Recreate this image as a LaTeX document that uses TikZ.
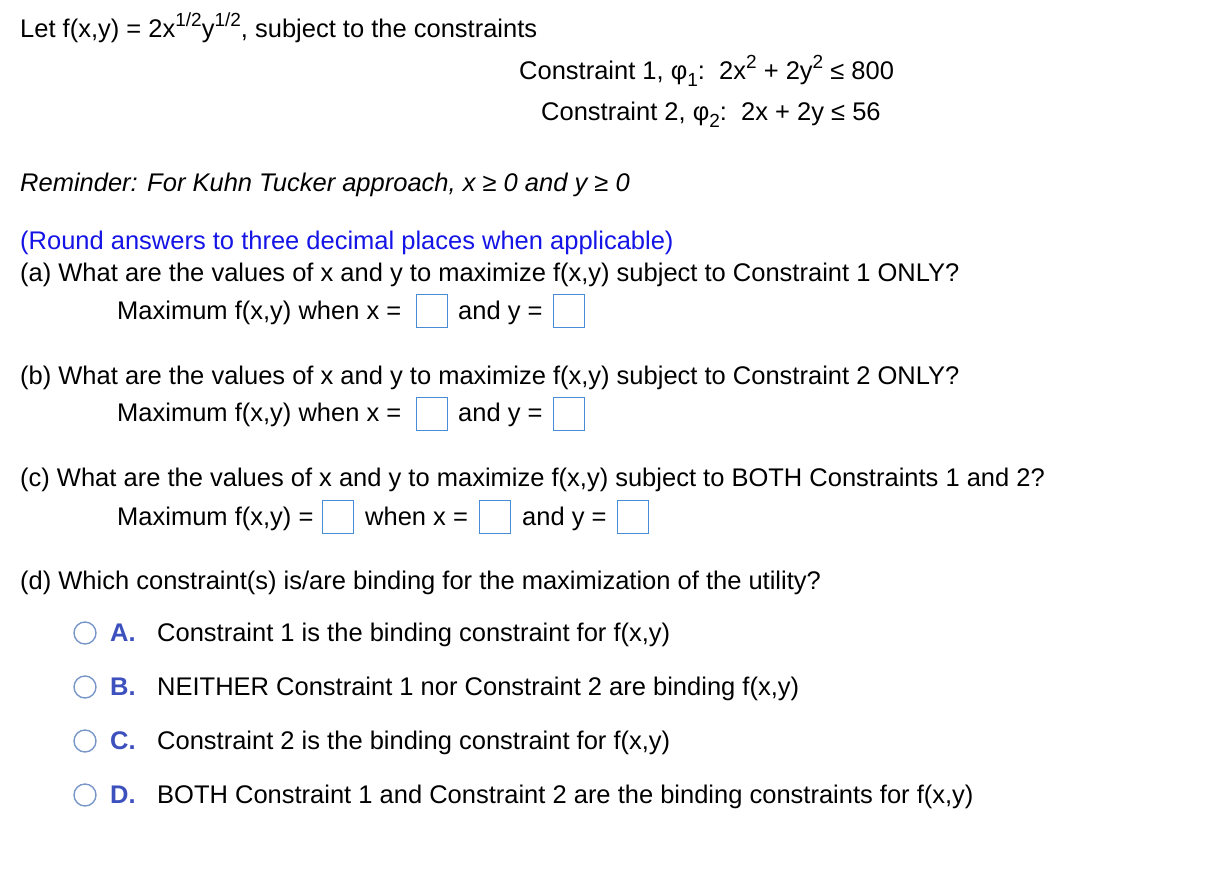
\documentclass[tikz,border=0pt]{standalone}
\usepackage{fontspec}
\setmainfont{Liberation Sans}
\definecolor{rblue}{RGB}{20,20,230}
\definecolor{optblue}{RGB}{60,80,190}
\definecolor{boxblue}{RGB}{70,140,215}
\definecolor{circ}{RGB}{120,150,200}
\newcommand{\spx}[1]{\raisebox{0.45em}{\fontsize{19}{19}\selectfont #1}}
\newcommand{\sbx}[1]{\raisebox{-0.25em}{\fontsize{19}{19}\selectfont #1}}
\begin{document}
\begin{tikzpicture}[x=1pt,y=-1pt,
  txt/.style={anchor=base west,inner sep=0pt,font=\fontsize{25.5}{30}\selectfont},
  ansbox/.style={draw=boxblue,line width=1.3pt,minimum width=31pt,minimum height=33pt,inner sep=0pt},
  radio/.style={draw=circ,line width=1.4pt,circle,minimum size=22pt,inner sep=0pt},
  lett/.style={txt,text=optblue,font=\fontsize{25.5}{30}\selectfont\bfseries}]
\useasboundingbox (0,0) rectangle (1230,880);
\node[txt] (l1) at (20,38) {Let f(x,y) = 2x\spx{1/2}y\spx{1/2}, subject to the constraints};
\node[txt] (c1) at (519,80) {Constraint 1, φ\sbx{1}:\ \ 2x\spx{2} + 2y\spx{2} ≤ 800};
\node[txt] (c2) at (541,121) {Constraint 2, φ\sbx{2}:\ \ 2x + 2y ≤ 56};
\node[txt,font=\fontsize{25.5}{30}\selectfont\itshape] (rem) at (20,191) {Reminder: For Kuhn Tucker approach, x ≥ 0 and y ≥ 0};
\node[txt,text=rblue] (rnd) at (20,249) {(Round answers to three decimal places when applicable)};
\node[txt] (qa) at (20,281) {(a) What are the values of x and y to maximize f(x,y) subject to Constraint 1 ONLY?};
\node[txt] (ma) at (117,319) {Maximum f(x,y) when x =};
\node[ansbox] (ba1) at (432,311) {};
\node[txt] (ya) at (458,319) {and y =};
\node[ansbox] (ba2) at (569,311) {};
\node[txt] (qb) at (20,384) {(b) What are the values of x and y to maximize f(x,y) subject to Constraint 2 ONLY?};
\node[txt] (mb) at (117,421) {Maximum f(x,y) when x =};
\node[ansbox] (bb1) at (432,414) {};
\node[txt] (yb) at (458,421) {and y =};
\node[ansbox] (bb2) at (569,414) {};
\node[txt] (qc) at (20,486) {(c) What are the values of x and y to maximize f(x,y) subject to BOTH Constraints 1 and 2?};
\node[txt] (mc) at (117,525) {Maximum f(x,y) =};
\node[ansbox] (bc1) at (338,517) {};
\node[txt] (wc) at (365,525) {when x =};
\node[ansbox] (bc2) at (495,517) {};
\node[txt] (yc) at (522,525) {and y =};
\node[ansbox] (bc3) at (633,517) {};
\node[txt] (qd) at (20,589) {(d) Which constraint(s) is/are binding for the maximization of the utility?};
\foreach \y/\l/\t [count=\i] in {633/A./Constraint 1 is the binding constraint for f(x{,}y),
  687/B./NEITHER Constraint 1 nor Constraint 2 are binding f(x{,}y),
  741/C./Constraint 2 is the binding constraint for f(x{,}y),
  795/D./BOTH Constraint 1 and Constraint 2 are the binding constraints for f(x{,}y)}{
  \node[radio] (r\i) at (85,\y) {};
  \node[lett] (L\i) at (110,\y+8) {\l};
  \node[txt] (T\i) at (157,\y+8) {\t};
}
\end{tikzpicture}
\end{document}
